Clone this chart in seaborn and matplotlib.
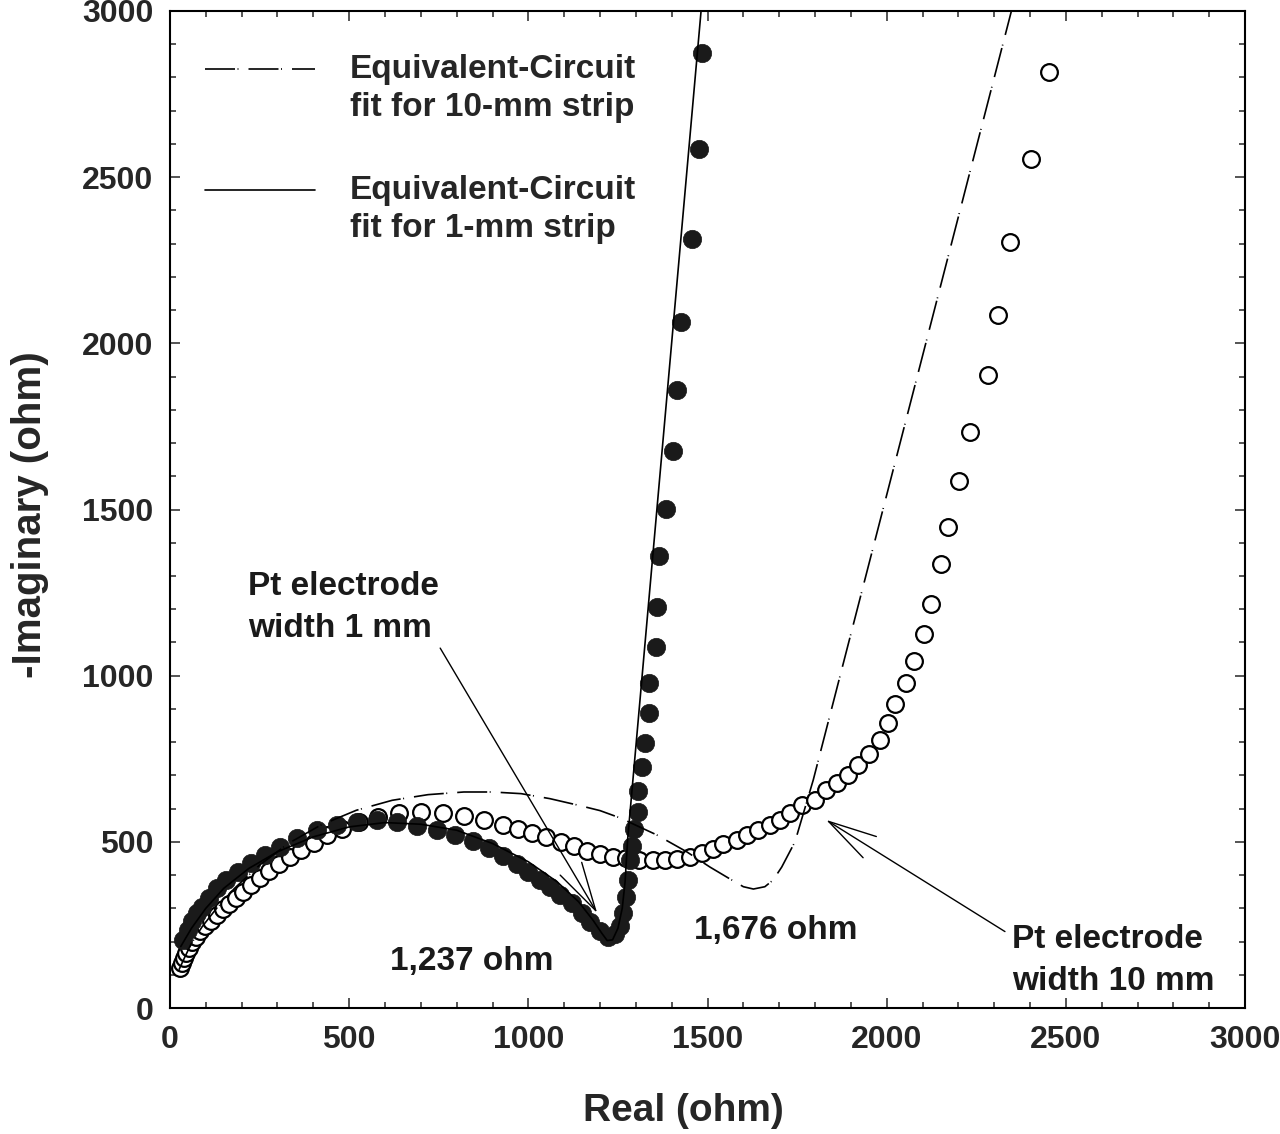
import numpy as np
import pandas as pd
import matplotlib
matplotlib.use("Agg")
import matplotlib.pyplot as plt
import seaborn as sns
from matplotlib.legend_handler import HandlerLine2D
from matplotlib.ticker import MultipleLocator

# ---- data (ohm) ----
# 10-mm strip, open circles
real_10mm = [28, 33, 38, 44, 52, 61, 72, 85, 99, 114, 130, 147, 165, 184, 204, 226,
             250, 276, 304, 334, 366, 401, 438, 479, 527, 580, 640, 700, 762, 820,
             875, 930, 970, 1010, 1050, 1090, 1128, 1165, 1200, 1237, 1272, 1310,
             1348, 1382, 1416, 1450, 1484, 1514, 1544, 1582, 1610, 1642, 1675, 1702,
             1730, 1763, 1800, 1832, 1862, 1892, 1920, 1950, 1982, 2005, 2023, 2054,
             2075, 2103, 2123, 2152, 2171, 2202, 2233, 2283, 2311, 2344, 2403, 2453]
imag_10mm = [120, 135, 150, 166, 182, 199, 215, 231, 247, 263, 280, 297, 314, 331, 349, 369,
             390, 411, 432, 454, 476, 498, 520, 540, 560, 575, 586, 590, 587, 578,
             566, 551, 540, 528, 515, 500, 486, 472, 462, 455, 450, 446,
             445, 445, 448, 455, 466, 479, 495, 506, 521, 536, 551, 566,
             587, 611, 626, 656, 677, 700, 730, 765, 806, 859, 915, 979,
             1045, 1125, 1216, 1336, 1447, 1586, 1733, 1905, 2085, 2305, 2555, 2817]

# 1-mm strip, filled circles
real_1mm = [37, 50, 62, 75, 90, 108, 130, 156, 190, 225, 265, 307, 354, 409, 465, 521,
            577, 633, 689, 744, 795, 846, 889, 930, 968, 1000, 1033, 1061, 1088, 1121,
            1149, 1172, 1200, 1223, 1243, 1256, 1264, 1272, 1279, 1284, 1289, 1295,
            1306, 1306, 1317, 1326, 1338, 1338, 1356, 1359, 1365, 1384, 1404, 1415,
            1426, 1457, 1477, 1485]
imag_1mm = [205, 235, 262, 285, 305, 330, 360, 385, 410, 435, 460, 485, 511, 536, 550, 560,
            566, 560, 548, 536, 521, 502, 482, 456, 432, 410, 386, 364, 340, 316,
            286, 258, 232, 213, 222, 248, 286, 335, 385, 445, 486, 538,
            591, 654, 724, 798, 889, 979, 1087, 1207, 1360, 1502, 1676, 1860,
            2064, 2313, 2584, 2873]

# equivalent-circuit fits
fit_real_1mm = [30, 60, 100, 150, 220, 300, 400, 500, 600, 700, 800, 900, 1000, 1080,
                1140, 1180, 1205, 1220, 1235, 1250, 1262, 1270, 1277, 1482]
fit_imag_1mm = [185, 240, 300, 360, 420, 470, 515, 545, 558, 553, 535, 495, 440, 380,
                320, 265, 225, 203, 205, 240, 300, 380, 506, 3000]

fit_real_10mm = [25, 40, 60, 90, 130, 180, 250, 330, 420, 520, 620, 720, 820, 900, 980,
                 1060, 1140, 1200, 1256, 1358, 1442, 1507, 1560, 1600, 1628, 1660, 1683,
                 1707, 1744, 1795, 2348]
fit_imag_10mm = [115, 150, 195, 245, 300, 360, 430, 495, 550, 595, 625, 642, 650, 650, 645,
                 630, 610, 594, 572, 521, 470, 424, 390, 365, 358, 365, 385,
                 424, 500, 686, 3000]

pts_10 = pd.DataFrame({"real": real_10mm, "imag": imag_10mm})
pts_1 = pd.DataFrame({"real": real_1mm, "imag": imag_1mm})
fit_1 = pd.DataFrame({"real": fit_real_1mm, "imag": fit_imag_1mm})
fit_10 = pd.DataFrame({"real": fit_real_10mm, "imag": fit_imag_10mm})

sns.set_style("ticks")
plt.rcParams["font.family"] = ["Liberation Sans", "DejaVu Sans"]
plt.rcParams["font.weight"] = "bold"

fig = plt.figure(figsize=(12.8, 11.34), dpi=100)
ax = fig.add_axes([0.1328, 0.1111, 0.8399, 0.8792])

# long dash, tiny dot, gap
dashdot = (0, (18, 1.5, 0.6, 6))

sns.scatterplot(data=pts_10, x="real", y="imag", ax=ax, marker="o", s=145,
                facecolor="white", edgecolor="black", linewidth=1.6, zorder=3)
sns.scatterplot(data=pts_1, x="real", y="imag", ax=ax, marker="o", s=175,
                color="#1a1a1a", edgecolor="#1a1a1a", linewidth=0.5, zorder=4)
sns.lineplot(data=fit_10, x="real", y="imag", ax=ax, sort=False, estimator=None,
             color="black", lw=1.2, linestyle=dashdot, zorder=5,
             label="Equivalent-Circuit\nfit for 10-mm strip")
sns.lineplot(data=fit_1, x="real", y="imag", ax=ax, sort=False, estimator=None,
             color="black", lw=1.2, zorder=5,
             label="Equivalent-Circuit\nfit for 1-mm strip")

ax.set_xlim(0, 3000)
ax.set_ylim(0, 3000)
ax.xaxis.set_major_locator(MultipleLocator(500))
ax.xaxis.set_minor_locator(MultipleLocator(100))
ax.yaxis.set_major_locator(MultipleLocator(500))
ax.yaxis.set_minor_locator(MultipleLocator(100))
ax.tick_params(which="both", direction="in", top=True, right=True, width=1.1,
               labelsize=23, pad=12)
ax.tick_params(which="major", length=7.5)
ax.tick_params(which="minor", length=4.5)
for sp in ax.spines.values():
    sp.set_linewidth(1.5)
    sp.set_color("black")

ax.set_xlabel("Real (ohm)", fontsize=28, fontweight="bold")
ax.set_ylabel("-Imaginary (ohm)", fontsize=29, fontweight="bold")
ax.xaxis.set_label_coords(0.478, -0.085)
ax.yaxis.set_label_coords(-0.113, 0.495)


class TopLineHandler(HandlerLine2D):
    # put the sample line next to the first row of a two-row label
    def create_artists(self, legend, orig_handle, xdescent, ydescent,
                       width, height, fontsize, trans):
        arts = super().create_artists(legend, orig_handle, xdescent, ydescent,
                                      width, height, fontsize, trans)
        for a in arts:
            a.set_ydata(np.asarray(a.get_ydata()) + 14.3)
        return arts


handles, labels = ax.get_legend_handles_labels()
leg = ax.legend(handles, labels, loc="upper left", bbox_to_anchor=(0.0326, 0.957),
                frameon=False, fontsize=24, handlelength=3.3, handletextpad=1.05,
                labelspacing=1.57, borderpad=0, borderaxespad=0,
                handler_map={h: TopLineHandler() for h in handles})
for t in leg.get_texts():
    t.set_linespacing(1.28)

txt = dict(fontsize=24, fontweight="bold", color="#1a1a1a")
ax.text(218, 1205, "Pt electrode\nwidth 1 mm", ha="left", va="center",
        linespacing=1.45, **txt)
ax.text(2349, 142, "Pt electrode\nwidth 10 mm", ha="left", va="center",
        linespacing=1.45, **txt)
ax.text(843, 140, "1,237 ohm", ha="center", va="center", **txt)
ax.text(1691, 232, "1,676 ohm", ha="center", va="center", **txt)

arrow = dict(arrowstyle="->,head_length=3.5,head_width=0.9", mutation_scale=10,
             lw=1.0, color="black", shrinkA=0, shrinkB=0)
ax.annotate("", xy=(1192, 286), xytext=(754, 1083), arrowprops=arrow)
ax.annotate("", xy=(1831, 566), xytext=(2330, 230), arrowprops=arrow)

fig.savefig("out.png", dpi=100)
